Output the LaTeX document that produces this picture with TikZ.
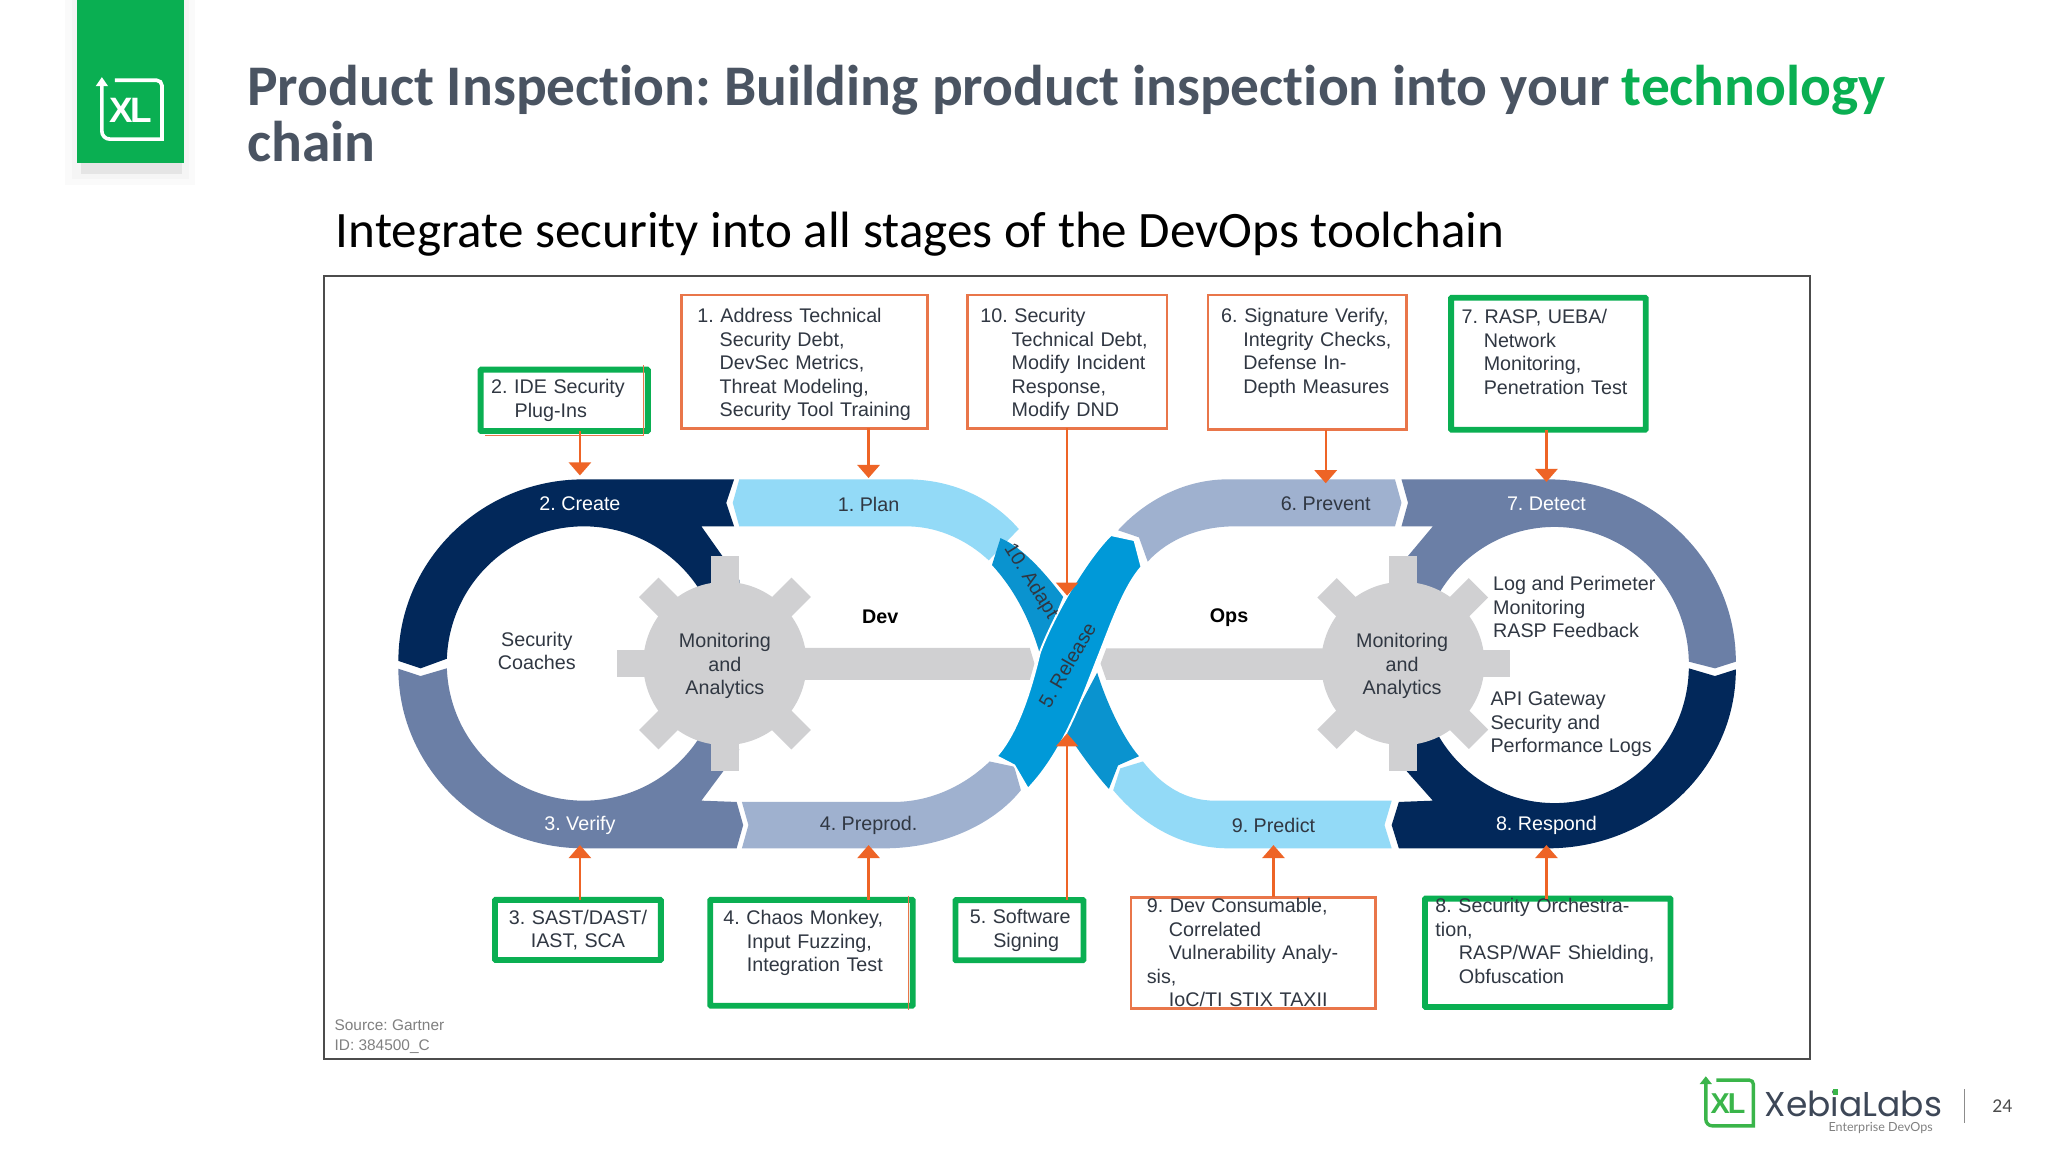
\documentclass[tikz,border=0pt]{standalone}
\usepackage{fontspec}
\usetikzlibrary{arrows.meta}
\setmainfont{Liberation Sans}
\newfontfamily\titlefont{Carlito}[Ligatures=NoCommon]
\newfontfamily\brandfont{Poppins}
\newfontfamily\tagfont{Lato}
\frenchspacing
\newlength{\du}
\setlength{\du}{1pt}
\definecolor{slidegreen}{HTML}{0AAF52}
\definecolor{logogreen}{HTML}{3AB54A}
\definecolor{titlegray}{HTML}{4A5462}
\definecolor{brandgray}{HTML}{3D4757}
\definecolor{flowcolor}{HTML}{EE6426}
\definecolor{boxorange}{HTML}{E9764A}
\definecolor{darkband}{HTML}{02285A}
\definecolor{midband}{HTML}{6B7FA6}
\definecolor{paleband}{HTML}{9FB1CF}
\definecolor{skyband}{HTML}{93DAF7}
\definecolor{releaseband}{HTML}{0099D8}
\definecolor{adaptband}{HTML}{0A93CF}
\definecolor{gearcolor}{HTML}{D0D0D2}
\definecolor{inkcolor}{HTML}{303742}
\tikzset{
  band/.style={line join=miter},
  gear/.style={fill=gearcolor},
  bandlabel/.style={font=\fontsize{15.1}{18}\selectfont,inner sep=0pt},
  ringtext/.style={font=\fontsize{15.1}{18}\selectfont,text=inkcolor,inner sep=0pt,align=center},
  sidetext/.style={ringtext,align=left,anchor=north west},
  secbox/.style={anchor=north west,fill=white,outer sep=0pt,inner ysep=0pt,align=left,
    font=\fontsize{15.1}{18}\selectfont,text=inkcolor},
  obox/.style={secbox,draw=boxorange,line width=2\du},
  gbox/.style={secbox,draw=slidegreen,line width=4.5\du,rounded corners=0.5\du},
  flow/.style={draw=flowcolor,line width=1.7\du,-{Triangle[width=17pt,length=10pt]}},
}
\begin{document}
\begin{tikzpicture}
\pgftransformxscale{1.000000}
\pgftransformyscale{-1.000000}
\useasboundingbox (0\du,0\du) rectangle (1568\du,882\du);
% header block
\fill[black!2] (50\du,0\du) rectangle (149\du,142\du);
\fill[black!4] (55\du,0\du) rectangle (145\du,137\du);
\fill[black!10] (62\du,124\du) rectangle (139\du,133\du);
\fill[slidegreen] (58.8\du,0\du) rectangle (141\du,124.6\du);
\draw[white,line width=2.8\du,-{Triangle[width=9pt,length=7pt]}] (88\du,61.5\du) [rounded corners=4\du] -- (124\du,61.5\du) [sharp corners] -- (124\du,106.5\du) [rounded corners=6\du] -- (78\du,106.5\du) [sharp corners] -- (78\du,59\du);
\node[text=white,inner sep=0pt,font=\fontsize{27}{27}\selectfont\bfseries] (headmark) at (100\du,84.5\du) {X\kern-2pt L};
\node[anchor=west,inner sep=0pt,align=left,text=titlegray,font=\titlefont\bfseries\fontsize{44}{42.5}\selectfont] (title) at (189\du,87\du) {Product Inspection: Building product inspection into your \textcolor{slidegreen}{technology}\\chain};
\node[anchor=base west,inner sep=0pt,font=\titlefont\fontsize{39.1}{42}\selectfont] (subtitle) at (257\du,189.5\du) {Integrate security into all stages of the DevOps toolchain};
\draw[black!70,line width=1.6\du,fill=white] (248\du,211\du) rectangle (1386\du,811\du);
% left ring
\fill[band,midband] (305\du,512\du) arc[start angle=180,end angle=90,x radius=142\du,y radius=137.5\du] -- (564\du,649.5\du) -- (569\du,631.7\du) -- (564\du,614\du) -- (537\du,613\du) -- (566\du,574\du) -- (538\du,560.5\du) arc[start angle=30,end angle=178,radius=105\du] -- (322\du,517.6\du) -- cycle;
\fill[band,darkband] (305\du,506\du) arc[start angle=180,end angle=270,x radius=142\du,y radius=139\du] -- (562\du,367\du) -- (556\du,385\du) -- (562\du,403\du) -- (537\du,403\du) -- (566\du,444\du) -- (566\du,455\du) -- (538\du,455.5\du) arc[start angle=330,end angle=182,radius=105\du] -- (322\du,511.7\du) -- cycle;
% right ring
\fill[band,midband] (1073\du,367\du) -- (1185\du,367\du) arc[start angle=270,end angle=360,x radius=144\du,y radius=139.6\du] -- (1313\du,511.7\du) -- (1293\du,506.6\du) arc[start angle=359,end angle=205,x radius=103\du,y radius=105\du] -- (1066\du,440\du) -- (1097\du,403\du) -- (1073\du,403\du) -- (1078\du,385\du) -- cycle;
\fill[band,darkband] (1071\du,649.5\du) -- (1185\du,649.5\du) arc[start angle=90,end angle=0,x radius=144\du,y radius=137\du] -- (1313\du,517.6\du) -- (1293\du,511.7\du) arc[start angle=1,end angle=155,x radius=103\du,y radius=105\du] -- (1066\du,578\du) -- (1097\du,613\du) -- (1071\du,614\du) -- (1065.5\du,631.7\du) -- cycle;
% pale bands
\fill[band,skyband] (566\du,367\du) -- (694\du,367\du) .. controls (730\du,367\du) and (760\du,382\du) .. (780\du,405\du) -- (757\du,429\du) .. controls (742\du,415\du) and (720\du,403\du) .. (694\du,403\du) -- (566\du,403\du) -- (561\du,385\du) -- cycle;
\fill[band,paleband] (568\du,614\du) -- (684\du,614\du) .. controls (712\du,614\du) and (738\du,602\du) .. (757.7\du,583\du) -- (776.5\du,587\du) -- (781.6\du,605\du) .. controls (760\du,632\du) and (720\du,649.5\du) .. (677\du,649.5\du) -- (568\du,649.5\du) -- (573\du,631.7\du) -- cycle;
\fill[band,paleband] (856\du,406\du) .. controls (875\du,385\du) and (905\du,367\du) .. (940\du,367\du) -- (1068\du,367\du) -- (1073\du,385\du) -- (1068\du,403\du) -- (945\du,403\du) .. controls (920\du,403\du) and (895\du,412\du) .. (878.7\du,430\du) -- (872\du,411.4\du) -- cycle;
\fill[band,skyband] (875\du,583\du) .. controls (890\du,602\du) and (908\du,613\du) .. (930\du,613\du) -- (1065.5\du,613\du) -- (1060\du,631.7\du) -- (1065.5\du,649.5\du) -- (941\du,649.5\du) .. controls (905\du,649.5\du) and (875\du,632\du) .. (852.3\du,605\du) -- (857.7\du,588.3\du) -- cycle;
% crossing
\fill[band,adaptband] (766\du,412\du) .. controls (780\du,418\du) and (795\du,432\du) .. (814\du,457\du) -- (796\du,500\du) .. controls (790\du,480\du) and (780\du,455\du) .. (759.5\du,432.6\du) -- cycle;
\fill[band,adaptband] (840\du,515\du) .. controls (848\du,540\du) and (860\du,565\du) .. (872\du,579\du) -- (856\du,586\du) -- (849\du,604\du) .. controls (838\du,592\du) and (826\du,575\du) .. (816\du,560\du) -- cycle;
\filldraw[band,fill=releaseband,draw=white,line width=1.5\du] (850.5\du,409.6\du) -- (868.6\du,413.5\du) -- (874\du,434\du) .. controls (860\du,450\du) and (850\du,480\du) .. (840\du,505\du) .. controls (830\du,530\du) and (815\du,575\du) .. (787\du,604\du) -- (776.5\du,586\du) -- (763\du,579\du) .. controls (780\du,560\du) and (790\du,525\du) .. (796\du,500\du) .. controls (805\du,475\du) and (830\du,430\du) .. (850.5\du,409.6\du) -- cycle;
% gears
\fill[gear] (555\du,508\du) circle (62.5\du);
\foreach \toothangle in {45,90,...,315}{
  \fill[gear,rotate around={\toothangle:(555\du,508\du)}] (600\du,497.5\du) rectangle (637.5\du,518.5\du);
}
\fill[gear] (610\du,496\du) -- (788.4\du,496\du) -- (792\du,508\du) -- (788.4\du,520.6\du) -- (610\du,520.6\du) -- cycle;
\fill[gear] (1074\du,508\du) circle (62.5\du);
\foreach \toothangle in {0,45,90,135,225,270,315}{
  \fill[gear,rotate around={\toothangle:(1074\du,508\du)}] (1119\du,497.5\du) rectangle (1156\du,518.5\du);
}
\fill[gear] (1020\du,496.4\du) -- (847\du,496.4\du) -- (842.6\du,508\du) -- (847\du,520.6\du) -- (1020\du,520.6\du) -- cycle;
% band labels
\node[bandlabel,text=white] (createlabel) at (444\du,386\du) {2. Create};
\node[bandlabel,text=inkcolor] (planlabel) at (665\du,386\du) {1. Plan};
\node[bandlabel,text=inkcolor] (preventlabel) at (1015\du,386\du) {6. Prevent};
\node[bandlabel,text=white] (detectlabel) at (1184\du,386\du) {7. Detect};
\node[bandlabel,text=white] (verifylabel) at (444\du,632\du) {3. Verify};
\node[bandlabel,text=inkcolor] (preprodlabel) at (665\du,632\du) {4. Preprod.};
\node[bandlabel,text=inkcolor] (predictlabel) at (975\du,632\du) {9. Predict};
\node[bandlabel,text=white] (respondlabel) at (1184\du,632\du) {8. Respond};
\node[bandlabel,text=inkcolor,rotate=-58] (adaptlabel) at (789\du,445\du) {10. Adapt};
\node[bandlabel,text=inkcolor,rotate=60] (releaselabel) at (817\du,509\du) {5. Release};
% ring texts
\node[ringtext] (coaches) at (411\du,498.5\du) {Security\\Coaches};
\node[ringtext] (leftgear) at (555\du,510\du) {Monitoring\\and\\Analytics};
\node[ringtext] (rightgear) at (1073.5\du,510\du) {Monitoring\\and\\Analytics};
\node[ringtext,font=\fontsize{15.1}{18}\selectfont\bfseries,text=black] (devlabel) at (674\du,472\du) {Dev};
\node[ringtext,font=\fontsize{15.1}{18}\selectfont\bfseries,text=black] (opslabel) at (941\du,473\du) {Ops};
\node[sidetext] (logtext) at (1143\du,441\du) {Log and Perimeter\\Monitoring\\RASP Feedback};
\node[sidetext] (apitext) at (1141\du,529.5\du) {API Gateway\\Security and\\Performance Logs};
\node[anchor=north west,inner sep=0pt,align=left,text=black!50,font=\fontsize{11.8}{15}\selectfont] (source) at (256\du,780.5\du) {Source: Gartner\\ID: 384500\_C};
% top boxes
\node[gbox,minimum width=128\du,minimum height=47\du,inner xsep=8\du,text width=112\du] (ide) at (368\du,283\du) {2. IDE Security\\\hspace*{18\du}Plug-Ins};
\node[obox,minimum width=188\du,minimum height=102\du,inner xsep=12\du,text width=164\du] (address) at (522\du,226\du) {\rule{0pt}{15pt}1. Address Technical\\\hspace*{17\du}Security Debt,\\\hspace*{17\du}DevSec Metrics,\\\hspace*{17\du}Threat Modeling,\\\hspace*{17\du}Security Tool Training};
\node[obox,minimum width=153\du,minimum height=102\du,inner xsep=10\du,text width=133\du] (techdebt) at (740.6\du,226\du) {\rule{0pt}{15pt}10. Security\\\hspace*{24\du}Technical Debt,\\\hspace*{24\du}Modify Incident\\\hspace*{24\du}Response,\\\hspace*{24\du}Modify DND};
\node[obox,minimum width=152\du,minimum height=103\du,inner xsep=10\du,text width=132\du] (signature) at (925\du,226\du) {6. Signature Verify,\\\hspace*{17\du}Integrity Checks,\\\hspace*{17\du}Defense In-\\\hspace*{17\du}Depth Measures\\~};
\node[gbox,minimum width=149\du,minimum height=101\du,inner xsep=8\du,text width=133\du] (rasp) at (1111\du,228\du) {7. RASP, UEBA/\\\hspace*{17\du}Network\\\hspace*{17\du}Monitoring,\\\hspace*{17\du}Penetration Test\\~};
% bottom boxes
\node[gbox,minimum width=127\du,minimum height=46\du,inner xsep=2\du,text width=123\du,align=center] (sast) at (379\du,689\du) {3. SAST/DAST/\\IAST, SCA};
\node[gbox,minimum width=155\du,minimum height=81\du,inner xsep=10\du,text width=135\du] (chaos) at (543.8\du,689\du) {4. Chaos Monkey,\\\hspace*{18\du}Input Fuzzing,\\\hspace*{18\du}Integration Test\\~};
\node[gbox,minimum width=98\du,minimum height=46\du,inner xsep=8\du,text width=82\du] (signing) at (731.5\du,689.2\du) {\hspace*{3\du}5. Software\\\hspace*{21\du}Signing};
\node[obox,minimum width=187\du,minimum height=85\du,inner xsep=12\du,text width=163\du] (consumable) at (866\du,687\du) {9. Dev Consumable,\\\hspace*{17\du}Correlated\\\hspace*{17\du}Vulnerability Analysis,\\\hspace*{17\du}IoC/TI STIX TAXII};
\node[gbox,minimum width=188\du,minimum height=81\du,inner xsep=8\du,text width=172\du] (orchestration) at (1091\du,688\du) {8. Security Orchestration,\\\hspace*{18\du}RASP/WAF Shielding,\\\hspace*{18\du}Obfuscation\\~};
% leftover orange edges under the green boxes
\draw[boxorange,line width=1\du] ([xshift=-3.2\du,yshift=-3.2\du]ide.north east) -- ([xshift=-3.2\du,yshift=3.2\du]ide.south east) -- ([xshift=3.2\du,yshift=3.2\du]ide.south west);
\draw[boxorange,line width=1\du] ([xshift=-3.2\du,yshift=-3.2\du]chaos.north east) -- ([xshift=-3.2\du,yshift=3.2\du]chaos.south east);
% arrows
\coordinate (idetip) at (444\du,364\du);
\coordinate (plantip) at (665\du,366\du);
\coordinate (adapttip) at (817\du,456\du);
\coordinate (preventtip) at (1015\du,370\du);
\coordinate (detecttip) at (1184\du,369\du);
\coordinate (verifytip) at (444\du,647\du);
\coordinate (preprodtip) at (665\du,647\du);
\coordinate (releasetip) at (817\du,561.5\du);
\coordinate (predicttip) at (975\du,647\du);
\coordinate (respondtip) at (1184\du,647\du);
\draw[flow] (ide.south -| idetip) -- (idetip);
\draw[flow] (address.south -| plantip) -- (plantip);
\draw[flow] (techdebt.south -| adapttip) -- (adapttip);
\draw[flow] (signature.south -| preventtip) -- (preventtip);
\draw[flow] (rasp.south -| detecttip) -- (detecttip);
\draw[flow] (sast.north -| verifytip) -- (verifytip);
\draw[flow] (chaos.north -| preprodtip) -- (preprodtip);
\draw[flow] (signing.north -| releasetip) -- (releasetip);
\draw[flow] (consumable.north -| predicttip) -- (predicttip);
\draw[flow] (orchestration.north -| respondtip) -- (respondtip);
% footer
\draw[logogreen,line width=2.6\du,-{Triangle[width=9pt,length=6pt]}] (1314\du,827\du) [rounded corners=3\du] -- (1342.4\du,827\du) [sharp corners] -- (1342.4\du,862\du) [rounded corners=5\du] -- (1306\du,862\du) [sharp corners] -- (1306\du,824\du);
\node[text=logogreen,inner sep=0pt,font=\fontsize{22}{22}\selectfont\bfseries] (footmark) at (1323\du,845\du) {X\kern-1.5pt L};
\node[anchor=base west,inner sep=0pt,text=brandgray,font=\brandfont\fontsize{26.4}{28}\selectfont] (brand) at (1351\du,855\du) {XebiaLabs};
\fill[logogreen] (1403\du,834\du) rectangle (1407\du,838\du);
\node[anchor=base east,inner sep=0pt,text=black!50,font=\tagfont\fontsize{9.6}{12}\selectfont] (tagline) at (1480\du,866\du) {Enterprise DevOps};
\node[inner sep=0pt,text=black!70,font=\titlefont\fontsize{15}{18}\selectfont] (pagenum) at (1533\du,847\du) {24};
\draw[black!45,line width=1\du] (1504\du,834\du) -- (1504\du,860\du);
\end{tikzpicture}
\end{document}
